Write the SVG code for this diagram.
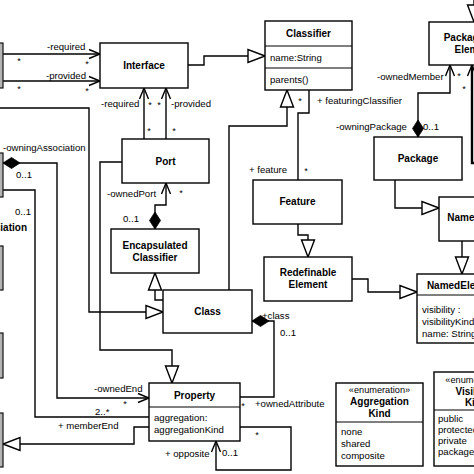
<svg xmlns="http://www.w3.org/2000/svg" width="474" height="474" viewBox="0 0 474 474">
<style>
.bx{fill:#fff;stroke:#000;stroke-width:1.4}
.st{fill:#b4b4b4;stroke:#111;stroke-width:1.2}
.sep{stroke:#000;stroke-width:1.2}
.ln{fill:none;stroke:#000;stroke-width:1.4}
.n{font-family:"Liberation Sans",Arial,sans-serif;font-weight:bold;font-size:10px;text-anchor:middle;fill:#000}
.l{font-family:"Liberation Sans",Arial,sans-serif;font-size:9.6px;fill:#000}
.c{font-family:"Liberation Sans",Arial,sans-serif;font-size:9.6px;fill:#000}
.s{font-family:"Liberation Sans",Arial,sans-serif;font-size:9.2px;text-anchor:middle;fill:#000}
</style>
<defs>
<marker id="gen" viewBox="-19 -8 21 16" refX="0" refY="0" markerWidth="21" markerHeight="16" markerUnits="userSpaceOnUse" orient="auto" overflow="visible">
<path d="M0,0 L-17,-6.5 L-17,6.5 Z" fill="#fff" stroke="#000" stroke-width="1.4"/>
</marker>
<marker id="nav" viewBox="-12 -6 14 12" refX="0" refY="0" markerWidth="14" markerHeight="12" markerUnits="userSpaceOnUse" orient="auto" overflow="visible">
<path d="M-11,-4.5 L0,0 L-11,4.5" fill="none" stroke="#000" stroke-width="1.4"/>
</marker>
<marker id="dia" viewBox="-1 -7 19 14" refX="0" refY="0" markerWidth="19" markerHeight="14" markerUnits="userSpaceOnUse" orient="auto" overflow="visible">
<path d="M0,0 L8.5,-5.5 L17,0 L8.5,5.5 Z" fill="#000" stroke="#000" stroke-width="0.8"/>
</marker>
</defs>

<g id="connectors">
<path class="ln" d="M3,54 H100" marker-end="url(#nav)"/>
<path class="ln" d="M3,81 H100" marker-end="url(#nav)"/>
<path class="ln" d="M188,65 H204 V56 H265" marker-end="url(#gen)"/>
<path class="ln" d="M144,139 V88" marker-end="url(#nav)"/>
<path class="ln" d="M166,139 V88" marker-end="url(#nav)"/>
<path class="ln" d="M229,290 V126 H287 V90" marker-end="url(#gen)"/>
<path class="ln" d="M309,90 V113 H298 V180"/>
<path class="ln" d="M298,224 V235 H308 V257" marker-end="url(#gen)"/>
<path class="ln" d="M352,279 H368 V292 H417" marker-end="url(#gen)"/>
<path class="ln" d="M395,180 V208 H439" marker-end="url(#gen)"/>
<path class="ln" d="M462,241 V274" marker-end="url(#gen)"/>
<path class="ln" d="M418,137 V93 H450 V65" marker-start="url(#dia)" marker-end="url(#nav)"/>
<path class="ln" d="M474,-10 V22" marker-end="url(#gen)"/>
<path class="ln" style="stroke-width:2.4" d="M478,163 H472 V65" marker-end="url(#nav)"/>
<path class="ln" d="M155,229 V205 H166 V183" marker-start="url(#dia)" marker-end="url(#nav)"/>
<path class="ln" d="M163,300 H155 V273" marker-end="url(#gen)"/>
<path class="ln" d="M0,108 H89 V312 H163" marker-end="url(#gen)"/>
<path class="ln" d="M122,162 H100 V350 H172 V383" marker-end="url(#gen)"/>
<path class="ln" d="M3,163 H57 V398 H149" marker-start="url(#dia)" marker-end="url(#nav)"/>
<path class="ln" d="M3,190 H35 V417 H149"/>
<path class="ln" d="M149,427 H134 V444 H3" marker-end="url(#gen)"/>
<path class="ln" d="M252,321 H274 V397 H240" marker-start="url(#dia)"/>
<path class="ln" d="M240,427 H291 V470 H216 V441" marker-end="url(#nav)"/>

<text class="l" x="47" y="50">-required</text>
<text class="s" x="19" y="64">*</text>
<text class="s" x="87" y="67">*</text>
<text class="l" x="46" y="79">-provided</text>
<text class="s" x="19" y="92">*</text>
<text class="s" x="87" y="94">*</text>
<text class="l" x="101" y="107">-required</text>
<text class="s" x="150" y="108">*</text>
<text class="s" x="159" y="108">*</text>
<text class="l" x="171" y="107">-provided</text>
<text class="s" x="149" y="134">*</text>
<text class="s" x="174" y="134">*</text>
<text class="l" x="3" y="151">-owningAssociation</text>
<text class="l" x="16" y="178">0..1</text>
<text class="l" x="15" y="215">0..1</text>
<text class="l" x="107" y="197">-ownedPort</text>
<text class="s" x="181" y="196">*</text>
<text class="l" x="123" y="222">0..1</text>
<text class="s" x="300" y="104">*</text>
<text class="l" x="317" y="104">+ featuringClassifier</text>
<text class="l" x="249" y="173">+ feature</text>
<text class="s" x="306" y="174">*</text>
<text class="l" x="377" y="80">-ownedMember</text>
<text class="s" x="459" y="79">*</text>
<text class="s" x="464" y="92">*</text>
<text class="l" x="336" y="130">-owningPackage</text>
<text class="l" x="423" y="130">0..1</text>
<text class="l" x="262" y="319">+class</text>
<text class="l" x="280" y="336">0..1</text>
<text class="s" x="243" y="409">*</text>
<text class="l" x="255" y="407">+ownedAttribute</text>
<text class="l" x="94" y="392">-ownedEnd</text>
<text class="s" x="125" y="407">*</text>
<text class="l" x="95" y="415">2..*</text>
<text class="l" x="58" y="429">+ memberEnd</text>
<text class="l" x="165" y="457">+ opposite</text>
<text class="l" x="222" y="456">0..1</text>
<text class="s" x="257" y="438">*</text>
</g>

<g id="cut1"><rect class="st" x="-6" y="43" width="9" height="45"/></g>
<g id="cut2"><rect class="st" x="-6" y="153" width="9" height="44"/></g>
<g id="cut3"><rect class="st" x="-6" y="246" width="9" height="44"/></g>
<g id="cut4"><rect class="st" x="-6" y="333" width="9" height="45"/></g>
<g id="cut5"><rect class="st" x="-6" y="413" width="9" height="54"/></g>
<g id="association"><text class="n" x="27" y="231" style="text-anchor:end">Association</text></g>

<g id="interface"><rect class="bx" x="100" y="43" width="88" height="45"/><text class="n" x="144" y="69">Interface</text></g>

<g id="classifier"><rect class="bx" x="265" y="21" width="87" height="69"/>
<line class="sep" x1="265" y1="46" x2="352" y2="46"/><line class="sep" x1="265" y1="68" x2="352" y2="68"/>
<text class="n" x="308.5" y="37">Classifier</text>
<text class="c" x="270" y="61">name:String</text>
<text class="c" x="270" y="83">parents()</text></g>

<g id="port"><rect class="bx" x="122" y="139" width="87" height="44"/><text class="n" x="165.5" y="165">Port</text></g>

<g id="encapsulated"><rect class="bx" x="111" y="229" width="88" height="44"/>
<text class="n" x="155" y="249">Encapsulated</text><text class="n" x="155" y="261">Classifier</text></g>

<g id="class"><rect class="bx" x="163" y="290" width="89" height="43"/><text class="n" x="207.5" y="315">Class</text></g>

<g id="property"><rect class="bx" x="149" y="383" width="91" height="58"/>
<line class="sep" x1="149" y1="407" x2="240" y2="407"/>
<text class="n" x="194.5" y="399">Property</text>
<text class="c" x="154" y="421">aggregation:</text>
<text class="c" x="154" y="433">aggregationKind</text></g>

<g id="feature"><rect class="bx" x="253" y="180" width="89" height="44"/><text class="n" x="297.5" y="205">Feature</text></g>

<g id="redefinable"><rect class="bx" x="264" y="257" width="88" height="44"/>
<text class="n" x="308" y="276">Redefinable</text><text class="n" x="308" y="288">Element</text></g>

<g id="package"><rect class="bx" x="374" y="137" width="88" height="43"/><text class="n" x="418" y="162">Package</text></g>

<g id="packageable"><rect class="bx" x="429" y="22" width="90" height="43"/>
<text class="n" x="474" y="41">Packageable</text><text class="n" x="474" y="53">Element</text></g>

<g id="namespace"><rect class="bx" x="439" y="197" width="72" height="44"/><text class="n" x="475" y="221">Namespace</text></g>

<g id="namedelement"><rect class="bx" x="417" y="274" width="95" height="69"/>
<line class="sep" x1="417" y1="295" x2="512" y2="295"/>
<text class="n" x="463" y="289">NamedElement</text>
<text class="c" x="422" y="313">visibility :</text>
<text class="c" x="422" y="325">visibilityKind</text>
<text class="c" x="422" y="337">name: String</text></g>

<g id="aggregationkind"><rect class="bx" x="336" y="383" width="87" height="83"/>
<line class="sep" x1="336" y1="422" x2="423" y2="422"/>
<text class="s" x="379.5" y="393">«enumeration»</text>
<text class="n" x="379.5" y="405">Aggregation</text>
<text class="n" x="379.5" y="417">Kind</text>
<text class="c" x="341" y="435">none</text>
<text class="c" x="341" y="447">shared</text>
<text class="c" x="341" y="459">composite</text></g>

<g id="visibilitykind"><rect class="bx" x="434" y="372" width="84" height="94"/>
<line class="sep" x1="434" y1="410" x2="518" y2="410"/>
<text class="s" x="476" y="383">«enumeration»</text>
<text class="n" x="476" y="395">Visibility</text>
<text class="n" x="476" y="406">Kind</text>
<text class="c" x="438" y="422">public</text>
<text class="c" x="438" y="433">protected</text>
<text class="c" x="438" y="444">private</text>
<text class="c" x="438" y="455">package</text></g>
</svg>
